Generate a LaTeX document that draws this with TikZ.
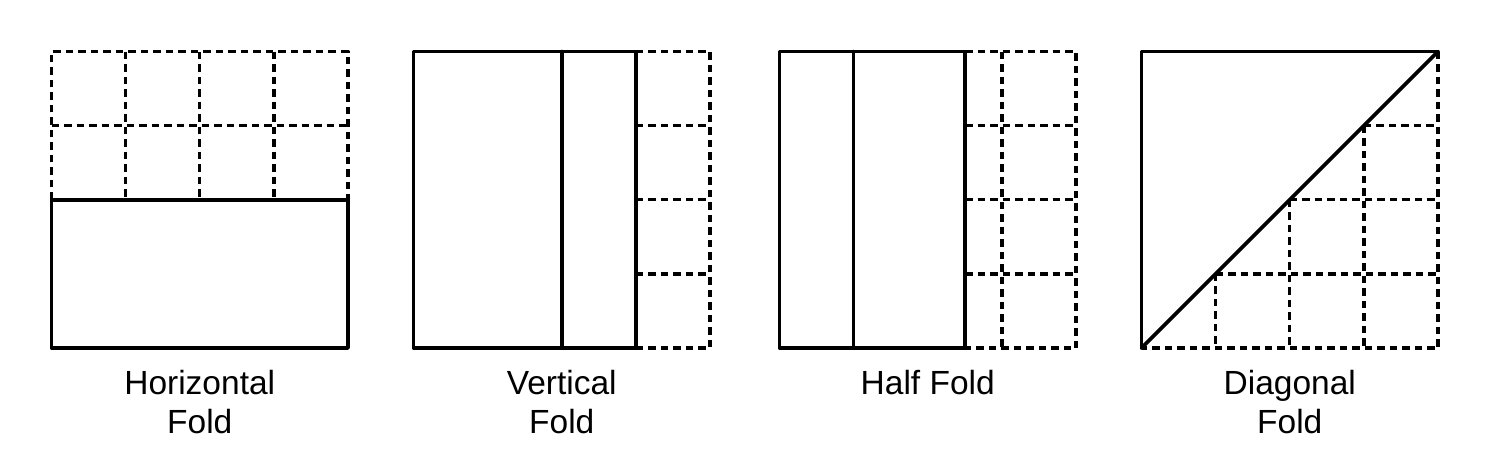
\documentclass[tikz,border=0pt]{standalone}
\usepackage{fontspec}
\setmainfont{Liberation Sans}
\tikzset{
  solidline/.style={line width=3.6pt, line join=round, line cap=round},
  dashline/.style={line width=3.4pt, dash pattern=on 7.5pt off 5pt, line join=round},
  lbl/.style={font=\fontsize{33.5}{38.5}\selectfont, align=center, inner sep=0pt, anchor=north}
}
\begin{document}
\begin{tikzpicture}[x=1pt,y=-1pt]
\useasboundingbox (0,0) rectangle (1500,461);
% ---- Square 1: Horizontal fold
\draw[dashline] (51.5,199.75) -- (51.5,51.5) -- (348,51.5) -- (348,199.75);
\draw[dashline] (51.5,125.6) -- (348,125.6);
\foreach \x in {125.6,199.75,273.9} \draw[dashline] (\x,51.5) -- (\x,199.75);
\draw[solidline] (51.5,199.75) rectangle (348,348);
% ---- Square 2: Vertical fold
\draw[dashline] (635.9,51.5) -- (710,51.5) -- (710,348) -- (635.9,348);
\foreach \y in {125.6,199.75,273.9} \draw[dashline] (635.9,\y) -- (710,\y);
\draw[solidline] (413.5,51.5) rectangle (635.9,348);
\draw[solidline] (561.75,51.5) -- (561.75,348);
% ---- Square 3: Half fold
\draw[dashline] (965,51.5) -- (1076,51.5) -- (1076,348) -- (965,348);
\foreach \y in {125.6,199.75,273.9} \draw[dashline] (965,\y) -- (1076,\y);
\draw[dashline] (1001.9,51.5) -- (1001.9,348);
\draw[solidline] (779.5,51.5) rectangle (965,348);
\draw[solidline] (853.6,51.5) -- (853.6,348);
% ---- Square 4: Diagonal fold
\draw[dashline] (1438,51.5) -- (1438,348) -- (1141.5,348);
\draw[dashline] (1215.6,273.9) -- (1438,273.9);
\draw[dashline] (1289.75,199.75) -- (1438,199.75);
\draw[dashline] (1363.9,125.6) -- (1438,125.6);
\draw[dashline] (1215.6,273.9) -- (1215.6,348);
\draw[dashline] (1289.75,199.75) -- (1289.75,348);
\draw[dashline] (1363.9,125.6) -- (1363.9,348);
\draw[solidline] (1141.5,348) -- (1141.5,51.5) -- (1438,51.5);
\draw[solidline] (1141.5,348) -- (1438,51.5);
% ---- Labels
\node[lbl] (l1) at (199.75,370.5) {Horizontal\\Fold};
\node[lbl] (l2) at (561.75,370.5) {Vertical\\Fold};
\node[lbl] (l3) at (927.75,370.5) {Half Fold};
\node[lbl] (l4) at (1289.75,370.5) {Diagonal\\Fold};
\end{tikzpicture}
\end{document}
